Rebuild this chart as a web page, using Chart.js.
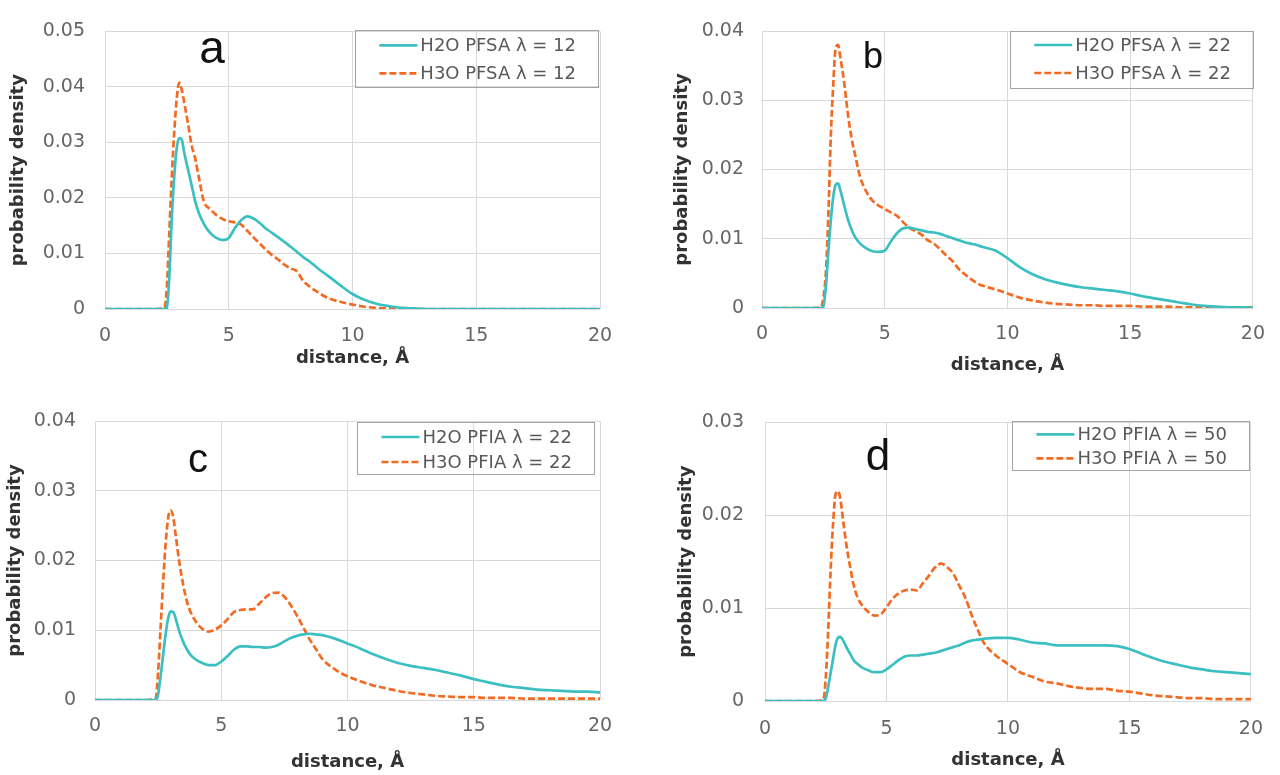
<!DOCTYPE html>
<html>
<head>
<meta charset="utf-8">
<title>probability density vs distance</title>
<script src="https://cdn.jsdelivr.net/npm/chart.js@4.4.1/dist/chart.umd.min.js"></script>
<style>
  html, body { margin: 0; padding: 0; background: #fff; }
  body { width: 1280px; height: 775px; position: relative; overflow: hidden; }
  canvas { position: absolute; }
</style>
</head>
<body>
<canvas id="chartA" width="640" height="385" style="left:0;top:0"></canvas>
<canvas id="chartB" width="640" height="385" style="left:640px;top:0"></canvas>
<canvas id="chartC" width="640" height="385" style="left:0;top:390px"></canvas>
<canvas id="chartD" width="640" height="385" style="left:640px;top:390px"></canvas>
<script>
// distance grid (Å), shared by every curve
const distance = [0, 1, 2,
  2.4, 2.5, 2.6, 2.7, 2.8, 2.9, 3.0, 3.1, 3.2,
  3.35, 3.5, 3.65, 3.8,
  4.0, 4.25, 4.5, 4.75, 5.0, 5.25, 5.5, 5.75, 6.0, 6.25, 6.5, 6.75, 7.0, 7.25, 7.5, 7.75, 8.0, 8.25, 8.5, 8.75, 9.0,
  9.5, 10, 10.5, 11, 11.5, 12, 12.5, 13, 13.5, 14, 14.5, 15, 15.5, 16, 16.5, 17, 17.5, 18, 18.5, 19, 19.5, 20];

// panel a: PFSA lambda = 12
const h2oA = [0, 0, 0,
  0, 0.0002, 0.006, 0.0165, 0.024, 0.029, 0.0308, 0.0305, 0.0282,
  0.0252, 0.0223, 0.0193, 0.0172,
  0.0153, 0.0137, 0.0128, 0.0124, 0.0128, 0.0146, 0.016, 0.0167, 0.0163, 0.0155, 0.0145, 0.0137, 0.0129, 0.0121, 0.0112, 0.0103, 0.0094, 0.0086, 0.0077, 0.0068, 0.006,
  0.0043, 0.0027, 0.0016, 0.0009, 0.0005, 0.0002, 0.0001, 0, 0, 0, 0, 0, 0, 0, 0, 0, 0, 0, 0, 0, 0, 0];
const h3oA = [0, 0, 0,
  0.0002, 0.004, 0.014, 0.024, 0.032, 0.038, 0.0408, 0.0395, 0.0372,
  0.0335, 0.0295, 0.027, 0.0235,
  0.0193, 0.018, 0.0169, 0.0162, 0.0158, 0.0156, 0.0152, 0.0141, 0.0129, 0.0118, 0.0107, 0.0097, 0.0089, 0.008, 0.0073, 0.0068, 0.0051, 0.0041, 0.0033, 0.0026, 0.002,
  0.0013, 0.0008, 0.0004, 0.0002, 0.0001, 0, 0, 0, 0, 0, 0, 0, 0, 0, 0, 0, 0, 0, 0, 0, 0, 0];

// panel b: PFSA lambda = 22
const h2oB = [0, 0, 0,
  0, 0.0002, 0.003, 0.008, 0.0125, 0.016, 0.0178, 0.018, 0.0169,
  0.0148, 0.0128, 0.0113, 0.0102,
  0.0093, 0.0086, 0.0082, 0.0081, 0.0083, 0.0096, 0.0108, 0.0115, 0.0116, 0.0114, 0.0112, 0.011, 0.0109, 0.0107, 0.0104, 0.0101, 0.0098, 0.0095, 0.0093, 0.0091, 0.0088,
  0.0083, 0.0072, 0.0059, 0.0049, 0.0042, 0.0037, 0.0033, 0.003, 0.0028, 0.0026, 0.0024, 0.0021, 0.0017, 0.0014, 0.0011, 0.0008, 0.0005, 0.0003, 0.0002, 0.0001, 0.0001, 0];
const h3oB = [0, 0, 0,
  0.0001, 0.0015, 0.005, 0.013, 0.0245, 0.032, 0.0375, 0.038, 0.036,
  0.0325, 0.028, 0.0245, 0.022,
  0.0189, 0.0168, 0.0155, 0.0148, 0.0143, 0.0138, 0.0133, 0.0124, 0.0116, 0.0111, 0.0106, 0.0098, 0.0093, 0.0085, 0.0076, 0.0068, 0.0057, 0.0049, 0.0042, 0.0036, 0.0032,
  0.0027, 0.0021, 0.0015, 0.0011, 0.0008, 0.0006, 0.0005, 0.0004, 0.0004, 0.0003, 0.0003, 0.0003, 0.0002, 0.0002, 0.0002, 0.0001, 0.0001, 0.0001, 0.0001, 0.0001, 0.0001, 0.0001];

// panel c: PFIA lambda = 22
const h2oC = [0, 0, 0,
  0, 0.0008, 0.0035, 0.0065, 0.0095, 0.0118, 0.0127, 0.0126, 0.0116,
  0.0097, 0.0083, 0.0072, 0.0064,
  0.0058, 0.0053, 0.005, 0.005, 0.0055, 0.0063, 0.0072, 0.0077, 0.0077, 0.0076, 0.0076, 0.0075, 0.0076, 0.0079, 0.0084, 0.0089, 0.0092, 0.0094, 0.0095, 0.0094, 0.0093,
  0.0088, 0.0081, 0.0074, 0.0066, 0.0059, 0.0053, 0.0049, 0.0046, 0.0043, 0.0039, 0.0035, 0.003, 0.0026, 0.0022, 0.0019, 0.0017, 0.0015, 0.0014, 0.0013, 0.0012, 0.0012, 0.0011];
const h3oC = [0, 0, 0,
  0.0002, 0.004, 0.0105, 0.017, 0.0225, 0.0262, 0.0272, 0.0262, 0.0235,
  0.0195, 0.0164, 0.014, 0.0125,
  0.0112, 0.0102, 0.0098, 0.0101, 0.0107, 0.0116, 0.0126, 0.0129, 0.013, 0.013, 0.0138, 0.0147, 0.0153, 0.0154, 0.0148, 0.0136, 0.0121, 0.0104, 0.0087, 0.0073, 0.0059,
  0.0044, 0.0034, 0.0027, 0.0021, 0.0017, 0.0013, 0.001, 0.0008, 0.0006, 0.0005, 0.0004, 0.0004, 0.0003, 0.0003, 0.0003, 0.0002, 0.0002, 0.0002, 0.0002, 0.0002, 0.0002, 0.0002];

// panel d: PFIA lambda = 50
const h2oD = [0, 0, 0,
  0, 0.0003, 0.0015, 0.003, 0.0045, 0.006, 0.0068, 0.0069, 0.0066,
  0.0058, 0.0051, 0.0044, 0.004,
  0.0036, 0.0033, 0.0031, 0.0031, 0.0034, 0.0039, 0.0044, 0.0048, 0.0049, 0.0049, 0.005, 0.0051, 0.0052, 0.0054, 0.0056, 0.0058, 0.006, 0.0063, 0.0065, 0.0066, 0.0067,
  0.0068, 0.0068, 0.0066, 0.0063, 0.0062, 0.006, 0.006, 0.006, 0.006, 0.006, 0.0059, 0.0056, 0.0051, 0.0046, 0.0042, 0.0039, 0.0036, 0.0034, 0.0032, 0.0031, 0.003, 0.0029];
const h3oD = [0, 0, 0,
  0.0001, 0.0025, 0.0075, 0.014, 0.019, 0.0222, 0.0226, 0.0218, 0.0198,
  0.0168, 0.0145, 0.0125, 0.0112,
  0.0103, 0.0096, 0.0092, 0.0093, 0.0101, 0.011, 0.0116, 0.0119, 0.012, 0.0119, 0.0127, 0.0135, 0.0144, 0.0148, 0.0144, 0.0137, 0.0124, 0.0111, 0.0093, 0.0077, 0.0063,
  0.0049, 0.004, 0.0031, 0.0026, 0.0021, 0.0019, 0.0016, 0.0014, 0.0013, 0.0013, 0.0011, 0.001, 0.0008, 0.0006, 0.0005, 0.0004, 0.0003, 0.0003, 0.0002, 0.0002, 0.0002, 0.0002];

// legend labels and axis maxima
const labelsA = ['H2O PFSA λ = 12', 'H3O PFSA λ = 12'];
const labelsB = ['H2O PFSA λ = 22', 'H3O PFSA λ = 22'];
const labelsC = ['H2O PFIA λ = 22', 'H3O PFIA λ = 22'];
const labelsD = ['H2O PFIA λ = 50', 'H3O PFIA λ = 50'];
const yMaxA = 0.05, yMaxB = 0.04, yMaxC = 0.04, yMaxD = 0.03;
const xTicks = [0, 5, 10, 15, 20];

const TEAL = '#3cbfc0';
const ORANGE = '#f26b22';

Chart.defaults.font.family = '"DejaVu Sans", sans-serif';

// legend box drawn inside the plot area + the panel letter
const boxLegend = {
  id: 'boxLegend',
  afterDatasetsDraw(chart, args, opts) {
    const ctx = chart.ctx;
    const area = chart.chartArea;
    ctx.save();
    ctx.font = '18px "DejaVu Sans"';
    const textW = Math.max(...chart.data.datasets.map(ds => ctx.measureText(ds.label).width));
    const lineLen = 38, gap = 3, padL = 24, padR = 22;
    const w = padL + lineLen + gap + textW + padR;
    const right = area.right - opts.inset;
    const left = right - w;
    const top = area.top + opts.top;
    ctx.strokeStyle = '#a3a3a3';
    ctx.lineWidth = 1;
    ctx.strokeRect(Math.round(left) + 0.5, Math.round(top) + 0.5, Math.round(w), opts.height);
    chart.data.datasets.forEach((ds, i) => {
      const y = top + opts.rows[i];
      ctx.beginPath();
      ctx.setLineDash(ds.borderDash || []);
      ctx.strokeStyle = ds.borderColor;
      ctx.lineWidth = ds.borderWidth;
      ctx.moveTo(left + padL, y);
      ctx.lineTo(left + padL + lineLen, y);
      ctx.stroke();
      ctx.setLineDash([]);
      ctx.fillStyle = '#595959';
      ctx.textAlign = 'left';
      ctx.textBaseline = 'middle';
      ctx.fillText(ds.label, left + padL + lineLen + gap, y + 1);
    });
    ctx.font = opts.letterSize + 'px "Liberation Sans"';
    ctx.fillStyle = '#111';
    ctx.textAlign = 'center';
    ctx.textBaseline = 'alphabetic';
    ctx.fillText(opts.letter, opts.letterX, opts.letterY);
    ctx.restore();
  }
};

function makeChart(id, h2o, h3o, labels, yMax, lay) {
  const pts = arr => distance.map((d, i) => ({ x: d, y: arr[i] }));
  return new Chart(document.getElementById(id), {
    type: 'line',
    data: {
      datasets: [{
        label: labels[0],
        data: pts(h2o),
        borderColor: TEAL,
        borderWidth: 2.7,
        pointRadius: 0,
        cubicInterpolationMode: 'monotone'
      }, {
        label: labels[1],
        data: pts(h3o),
        borderColor: ORANGE,
        borderWidth: 2.7,
        borderDash: [7, 3],
        pointRadius: 0,
        cubicInterpolationMode: 'monotone'
      }]
    },
    options: {
      responsive: false,
      animation: false,
      layout: { padding: lay.padding },
      plugins: {
        legend: { display: false },
        tooltip: { enabled: false },
        boxLegend: lay.legend
      },
      scales: {
        x: {
          type: 'linear',
          min: 0,
          max: 20,
          afterFit: s => { s.height = lay.xAxisHeight; },
          afterBuildTicks: s => { s.ticks = xTicks.map(v => ({ value: v })); },
          grid: { color: '#d9d9d9', lineWidth: 1, drawTicks: false },
          border: { display: false },
          ticks: { padding: lay.xTickPad, color: '#666', font: { size: 19 } },
          title: {
            display: true,
            text: 'distance, Å',
            color: '#333',
            font: { size: 18, weight: 'bold' },
            padding: { top: 0, bottom: lay.xTitlePad }
          }
        },
        y: {
          min: 0,
          max: yMax,
          afterFit: s => { s.width = lay.yAxisWidth; },
          grid: { color: '#d9d9d9', lineWidth: 1, drawTicks: false },
          border: { display: false },
          ticks: {
            stepSize: 0.01,
            padding: lay.yTickPad,
            color: '#666',
            font: { size: 19 },
            callback: v => (Math.abs(v) < 1e-9 ? '0' : v.toFixed(2))
          },
          title: {
            display: true,
            text: 'probability density',
            color: '#333',
            font: { size: 18, weight: 'bold' },
            padding: { top: lay.yTitlePad, bottom: 0 }
          }
        }
      }
    },
    plugins: [boxLegend]
  });
}

makeChart('chartA', h2oA, h3oA, labelsA, yMaxA, {
  padding: { top: 15, right: 40, bottom: 0, left: 0 },
  yAxisWidth: 105, xAxisHeight: 76, yTickPad: 20, xTickPad: 16, yTitlePad: 8, xTitlePad: 16,
  legend: { inset: 2, top: -1, height: 57, rows: [15, 43], letter: 'a', letterSize: 46, letterX: 212, letterY: 63 }
});
makeChart('chartB', h2oB, h3oB, labelsB, yMaxB, {
  padding: { top: 31, right: 15, bottom: 0, left: 0 },
  yAxisWidth: 122, xAxisHeight: 77, yTickPad: 18, xTickPad: 15, yTitlePad: 32, xTitlePad: 9,
  legend: { inset: 0, top: 0, height: 57, rows: [14, 42], letter: 'b', letterSize: 36, letterX: 233, letterY: 68 }
});
makeChart('chartC', h2oC, h3oC, labelsC, yMaxC, {
  padding: { top: 31, right: 40, bottom: 0, left: 0 },
  yAxisWidth: 95, xAxisHeight: 75, yTickPad: 19, xTickPad: 15, yTitlePad: 5, xTitlePad: 2,
  legend: { inset: 6, top: 1, height: 52, rows: [15, 40], letter: 'c', letterSize: 40, letterX: 198, letterY: 82 }
});
makeChart('chartD', h2oD, h3oD, labelsD, yMaxD, {
  padding: { top: 31, right: 15, bottom: 0, left: 0 },
  yAxisWidth: 125, xAxisHeight: 74, yTickPad: 21, xTickPad: 17, yTitlePad: 36, xTitlePad: 4,
  legend: { inset: 2, top: -1, height: 49, rows: [13, 37], letter: 'd', letterSize: 44, letterX: 238, letterY: 80 }
});
</script>
</body>
</html>
